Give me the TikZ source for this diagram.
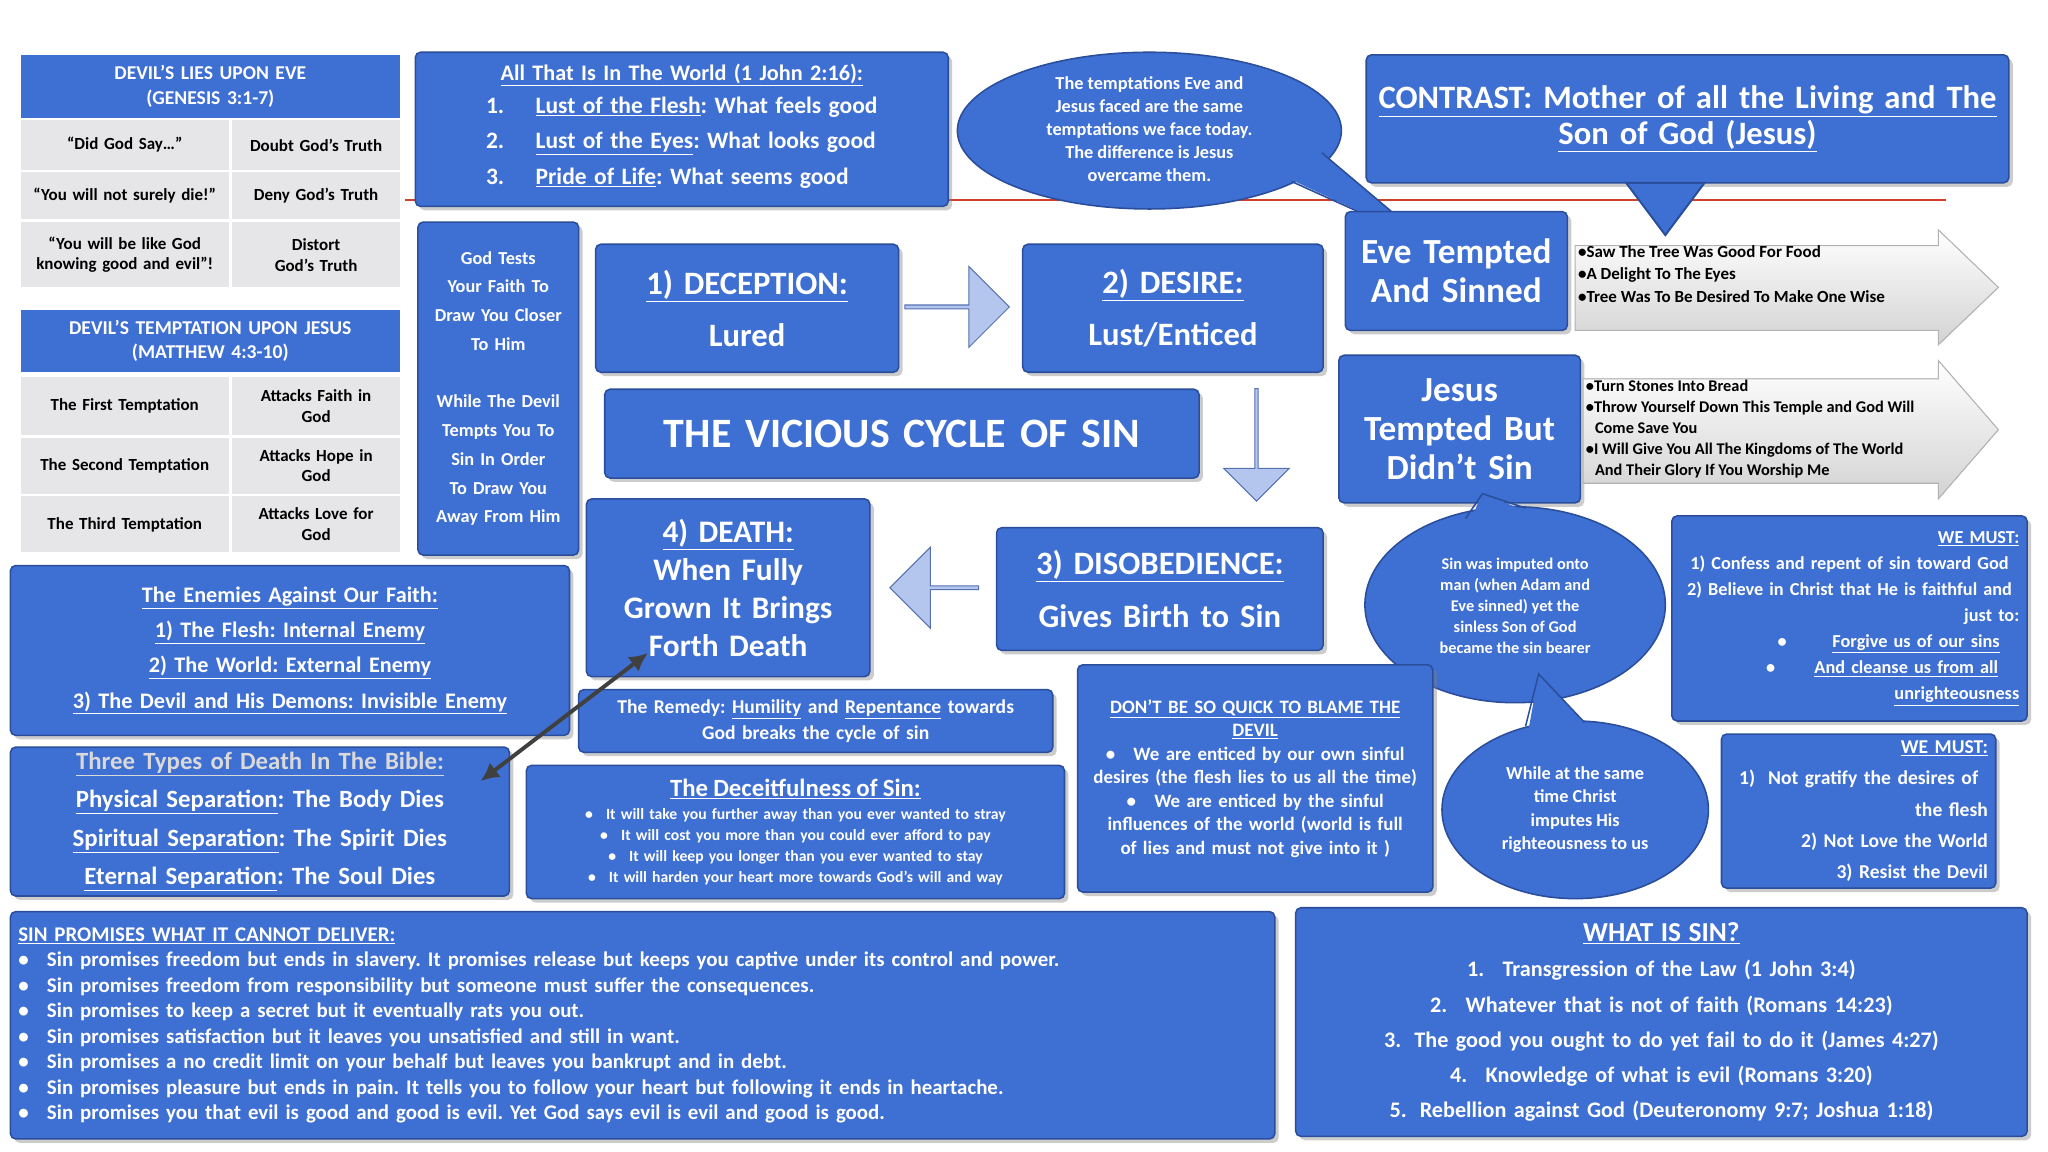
\documentclass[tikz,border=0pt]{standalone}
\usepackage{fontspec}
\setmainfont{Carlito}
\frenchspacing
\usetikzlibrary{shapes.arrows,shadows,arrows.meta}
\definecolor{bblue}{HTML}{3E6FD2}
\definecolor{bedge}{HTML}{2B4E9C}
\definecolor{lblue}{HTML}{B4C6EE}
\definecolor{cellg}{HTML}{E6E6E8}
\definecolor{redl}{HTML}{D0402A}
\newcommand\fs[2]{\fontsize{#1}{#2}\selectfont\hyphenpenalty=10000\bfseries}
\tikzset{
 box/.style={fill=bblue,draw=bedge,line width=1.2pt,rounded corners=4pt,text=white,align=center,drop shadow={opacity=0.4,shadow xshift=3pt,shadow yshift=-3pt},inner sep=2pt},
 hdr/.style={fill=bblue,draw=none,text=white,align=center,inner sep=2pt},
 cell/.style={fill=cellg,draw=none,text=black,align=center,inner sep=2pt,font=\fs{13}{16}},
 barrow/.style={single arrow,fill=lblue,draw=bedge!80,line width=0.8pt,single arrow head extend=8pt,inner sep=0pt},
 bub/.style={fill=bblue,draw=bedge,line width=1.2pt},
 garrow/.style={top color=white,bottom color=gray!35,draw=gray!60,line width=0.8pt},
}
\newcommand\rb[7][]{\node[box,minimum width={#5-#3},minimum height={#6-#4},text width={#5-#3-12},#1] (#2) at ({(#3+#5)/2},{(#4+#6)/2}) {#7};}
\newcommand\hb[7][]{\node[hdr,minimum width={#5-#3},minimum height={#6-#4},text width={#5-#3-8},#1] (#2) at ({(#3+#5)/2},{(#4+#6)/2}) {#7};}
\newcommand\cb[7][]{\node[cell,minimum width={#5-#3},minimum height={#6-#4},text width={#5-#3-8},#1] (#2) at ({(#3+#5)/2},{(#4+#6)/2}) {#7};}
\begin{document}
\begin{tikzpicture}[x=1pt,y=-1pt]
\useasboundingbox (0,0) rectangle (1568,882);
\fill[white] (0,0) rectangle (1568,882);
\draw[redl,line width=2pt] (310,153) -- (1490,153);
\hb[font=\fs{15}{19}]{h1}{16}{42}{306}{90}{DEVIL’S LIES UPON EVE\\(GENESIS 3:1-7)}
\cb{c11}{16}{92}{175}{130}{“Did God Say…”}
\cb{c12}{178}{92}{306}{130}{Doubt God’s Truth}
\cb{c21}{16}{132}{175}{168}{“You will not surely die!”}
\cb{c22}{178}{132}{306}{168}{Deny God’s Truth}
\cb{c31}{16}{170}{175}{220}{“You will be like God knowing good and evil”!}
\cb{c32}{178}{170}{306}{220}{Distort\\God’s Truth}
\hb[font=\fs{15}{19}]{h2}{16}{237}{306}{285}{DEVIL’S TEMPTATION UPON JESUS\\(MATTHEW 4:3-10)}
\cb{d11}{16}{289}{175}{333}{The First Temptation}
\cb{d12}{178}{289}{306}{333}{Attacks Faith in\\God}
\cb{d21}{16}{335}{175}{378}{The Second Temptation}
\cb{d22}{178}{335}{306}{378}{Attacks Hope in\\God}
\cb{d31}{16}{380}{175}{423}{The Third Temptation}
\cb{d32}{178}{380}{306}{423}{Attacks Love for\\God}
\rb[font=\fs{17}{24}]{world}{318}{40}{726}{158}{\underline{All That Is In The World (1 John 2:16):}\\[1pt]\fs{18}{27}%
\begin{tabular}{@{}r@{\hspace{24pt}}l@{}}1.&\underline{Lust of the Flesh}: What feels good\\2.&\underline{Lust of the Eyes}: What looks good\\3.&\underline{Pride of Life}: What seems good\end{tabular}}
\draw[bub] (880,100) ellipse [x radius=147,y radius=60];
\fill[bblue] (985,136) -- (1095,187) -- (1008,114) -- cycle;
\draw[bedge,line width=1.2pt] (989,139) -- (1095,187) -- (1012,117);
\node[text=white,align=center,font=\fs{14}{17.5}] (bub1) at (880,99) {The temptations Eve and\\Jesus faced are the same\\temptations we face today.\\The difference is Jesus\\overcame them.};
\rb[font=\fs{25}{27}]{contrast}{1046}{42}{1538}{140}{\underline{CONTRAST: Mother of all the Living and The}\\\underline{Son of God (Jesus)}}
\filldraw[fill=bblue,draw=bedge,line width=1.5pt] (1245,140) -- (1305,140) -- (1275,180) -- cycle;
\rb[font=\fs{14}{22}]{tests}{320}{170}{443}{425}{God Tests\\Your Faith To\\Draw You Closer\\To Him\\[22pt]While The Devil\\Tempts You To\\Sin In Order\\To Draw You\\Away From Him}
\rb[font=\fs{25}{40}]{dec}{456}{187}{688}{285}{\underline{1) DECEPTION:}\\Lured}
\rb[font=\fs{25}{40}]{des}{783}{187}{1013}{285}{\underline{2) DESIRE:}\\Lust/Enticed}
\node[barrow,minimum height=80,minimum width=62] (a1) at (732,235) {};
\rb[font=\fs{32}{36}]{title}{463}{298}{918}{366}{THE VICIOUS CYCLE OF SIN}
\node[barrow,shape border rotate=270,minimum height=86,minimum width=50] (a2) at (962,340) {};
\rb[font=\fs{24}{29}]{death}{449}{382}{666}{518}{\underline{4) DEATH:}\\When Fully\\Grown It Brings\\Forth Death}
\node[barrow,shape border rotate=180,minimum height=68,minimum width=62] (a3) at (716,450) {};
\rb[font=\fs{25}{40}]{dis}{763}{404}{1013}{498}{\underline{3) DISOBEDIENCE:}\\Gives Birth to Sin}
\rb[font=\fs{27}{30}]{eve}{1030}{162}{1200}{253}{Eve Tempted\\And Sinned}
\filldraw[garrow] (1206,188) -- (1484,188) -- (1484,176) -- (1530,220) -- (1484,264) -- (1484,253) -- (1206,253) -- cycle;
\node[anchor=north west,align=left,inner sep=0pt,font=\fs{13}{17}] (evet) at (1208,188) {\textbullet Saw The Tree Was Good For Food\\\textbullet A Delight To The Eyes\\\textbullet Tree Was To Be Desired To Make One Wise};
\rb[font=\fs{27}{30}]{jesus}{1025}{272}{1210}{385}{Jesus\\Tempted But\\Didn’t Sin}
\filldraw[garrow] (1212,290) -- (1484,290) -- (1484,276) -- (1530,329) -- (1484,382) -- (1484,370) -- (1212,370) -- cycle;
\node[anchor=north west,align=left,inner sep=0pt,font=\fs{12.5}{16}] (jest) at (1214,291) {\textbullet Turn Stones Into Bread\\\textbullet Throw Yourself Down This Temple and God Will\\\hspace*{7pt}Come Save You\\\textbullet I Will Give You All The Kingdoms of The World\\\hspace*{7pt}And Their Glory If You Worship Me};
\draw[bub] (1160,463) ellipse [x radius=115,y radius=75];
\fill[bblue] (1125,400) -- (1135,378) -- (1170,392) -- cycle;
\draw[bedge,line width=1.2pt] (1122,397) -- (1135,378) -- (1168,389);
\node[text=white,align=center,font=\fs{12.5}{16}] (bub2) at (1160,464) {Sin was imputed onto\\man (when Adam and\\Eve sinned) yet the\\sinless Son of God\\became the sin bearer};
\rb[font=\fs{14}{20}]{must1}{1280}{395}{1552}{552}{\hfill\underline{WE MUST:}\\1) Confess and repent of sin toward God\\2) Believe in Christ that He is faithful and\\\hfill just to:\\\hspace*{60pt}\textbullet\hspace{35pt}\underline{Forgive us of our sins}\\\hspace*{50pt}\textbullet\hspace{30pt}\underline{And cleanse us from all}\\\hfill\underline{unrighteousness}}
\rb[font=\fs{17}{27}]{enemy}{8}{433}{436}{563}{\underline{The Enemies Against Our Faith:}\\\underline{1) The Flesh: Internal Enemy}\\\underline{2) The World: External Enemy}\\\underline{3) The Devil and His Demons: Invisible Enemy}}
\rb[font=\fs{15}{20}]{remedy}{443}{528}{806}{576}{The Remedy: \underline{Humility} and \underline{Repentance} towards\\God breaks the cycle of sin}
\rb[font=\fs{19}{29.5}]{three}{8}{572}{390}{686}{\textcolor{gray!30}{\underline{Three Types of Death In The Bible:}}\\\underline{Physical Separation}: The Body Dies\\\underline{Spiritual Separation}: The Spirit Dies\\\underline{Eternal Separation}: The Soul Dies}
\coordinate (dA) at (368,598);
\coordinate (dB) at (496,500);
\draw[{Latex[length=14pt,width=14pt]}-{Latex[length=14pt,width=14pt]},line width=3pt,black!75] (dA) -- (dB);
\rb[font=\fs{12}{16}]{deceit}{403}{586}{815}{688}{{\fs{19}{24}\underline{The Deceitfulness of Sin:}}\\[2pt]\textbullet\hspace{10pt}It will take you further away than you ever wanted to stray\\\textbullet\hspace{10pt}It will cost you more than you could ever afford to pay\\\textbullet\hspace{10pt}It will keep you longer than you ever wanted to stay\\\textbullet\hspace{10pt}It will harden your heart more towards God’s will and way}
\rb[font=\fs{14.5}{18}]{blame}{825}{509}{1097}{683}{\underline{DON’T BE SO QUICK TO BLAME THE}\\\underline{DEVIL}\\\textbullet\hspace{14pt}We are enticed by our own sinful desires (the flesh lies to us all the time)\\\textbullet\hspace{14pt}We are enticed by the sinful influences of the world (world is full of lies and must not give into it )}
\draw[bub] (1206,620) ellipse [x radius=102,y radius=68];
\fill[bblue] (1170,560) -- (1178,516) -- (1215,556) -- cycle;
\draw[bedge,line width=1.2pt] (1168,556) -- (1178,516) -- (1213,553);
\node[text=white,align=center,font=\fs{14}{18}] (bub3) at (1206,620) {While at the same\\time Christ\\imputes His\\righteousness to us};
\rb[font=\fs{15}{24}]{must2}{1318}{562}{1528}{680}{\hfill\underline{WE MUST:}\\1)\ \ Not gratify the desires of\\\hfill the flesh\\\hfill 2) Not Love the World\\\hfill 3) Resist the Devil}
\rb[align=left,font=\fs{16}{19.5}]{prom}{8}{698}{976}{872}{\underline{SIN PROMISES WHAT IT CANNOT DELIVER:}\\
\textbullet\hspace{14pt}Sin promises freedom but ends in slavery. It promises release but keeps you captive under its control and power.\\
\textbullet\hspace{14pt}Sin promises freedom from responsibility but someone must suffer the consequences.\\
\textbullet\hspace{14pt}Sin promises to keep a secret but it eventually rats you out.\\
\textbullet\hspace{14pt}Sin promises satisfaction but it leaves you unsatisfied and still in want.\\
\textbullet\hspace{14pt}Sin promises a no credit limit on your behalf but leaves you bankrupt and in debt.\\
\textbullet\hspace{14pt}Sin promises pleasure but ends in pain. It tells you to follow your heart but following it ends in heartache.\\
\textbullet\hspace{14pt}Sin promises you that evil is good and good is evil. Yet God says evil is evil and good is good.}
\rb[font=\fs{17}{27}]{what}{992}{695}{1552}{870}{{\fs{21}{27}\underline{WHAT IS SIN?}}\\
1.\hspace{14pt}Transgression of the Law (1 John 3:4)\\
2.\hspace{14pt}Whatever that is not of faith (Romans 14:23)\\
3.\hspace{10pt}The good you ought to do yet fail to do it (James 4:27)\\
4.\hspace{14pt}Knowledge of what is evil (Romans 3:20)\\
5.\hspace{10pt}Rebellion against God (Deuteronomy 9:7; Joshua 1:18)}
\end{tikzpicture}
\end{document}
